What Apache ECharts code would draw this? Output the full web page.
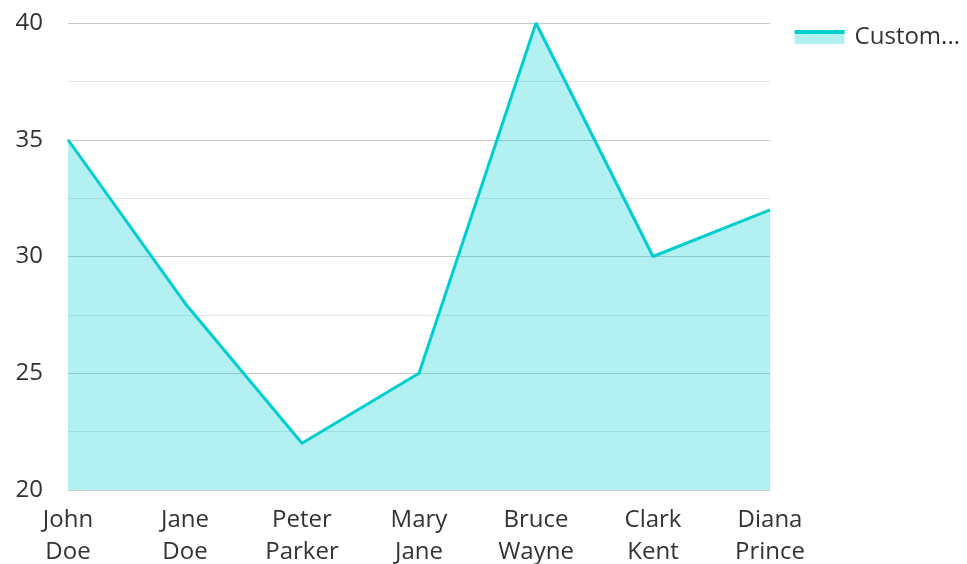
<!DOCTYPE html>
<html>
<head>
<meta charset="utf-8">
<script src="https://cdn.jsdelivr.net/npm/echarts@6/dist/echarts.min.js"></script>
<style>
  html, body { margin: 0; padding: 0; background: #fff; }
  #chart { width: 967px; height: 564px; }
</style>
</head>
<body>
<div id="chart"></div>
<script>
const categories = ['John\nDoe', 'Jane\nDoe', 'Peter\nParker', 'Mary\nJane', 'Bruce\nWayne', 'Clark\nKent', 'Diana\nPrince']
const ages = [35, 28, 22, 25, 40, 30, 32]
const seriesName = 'Customer Age'

const chart = echarts.init(document.getElementById('chart'))
const font = "'Open Sans', 'Noto Sans', sans-serif"
const teal = '#00cecf'

chart.setOption({
  animation: false,
  textStyle: { fontFamily: font },
  legend: {
    right: 2,
    top: 20,
    itemWidth: 50,
    itemHeight: 14,
    itemGap: 10,
    textStyle: { fontSize: 24, color: '#333', fontFamily: font, width: 116, overflow: 'truncate', padding: [0, 0, 8, 5] },
    data: [{
      name: seriesName,
      icon: 'rect',
      itemStyle: {
        color: new echarts.graphic.LinearGradient(0, 0, 0, 1, [
          { offset: 0, color: teal },
          { offset: 0.25, color: teal },
          { offset: 0.25, color: 'rgba(0,206,207,0.3)' },
          { offset: 1, color: 'rgba(0,206,207,0.3)' },
        ]),
      },
    }],
  },
  grid: { left: 68, right: 197, top: 23, bottom: 74, outerBoundsMode: 'none', containLabel: false },
  xAxis: {
    type: 'category',
    boundaryGap: false,
    data: categories,
    axisLine: { lineStyle: { color: '#ccc' } },
    axisTick: { show: false },
    axisLabel: { color: '#333', fontSize: 24, lineHeight: 32, margin: 14, fontFamily: font },
  },
  yAxis: {
    type: 'value',
    min: 20,
    max: 40,
    interval: 5,
    axisLabel: { color: '#333', fontSize: 24, margin: 25, fontFamily: font },
    splitLine: { lineStyle: { color: '#c8c8c8' } },
    minorTick: { show: false, splitNumber: 2 },
    minorSplitLine: { show: true, lineStyle: { color: '#e6e6e6' } },
  },
  series: [{
    name: seriesName,
    type: 'line',
    data: ages,
    showSymbol: false,
    lineStyle: { color: teal, width: 3 },
    itemStyle: { color: teal },
    areaStyle: { color: teal, opacity: 0.3 },
  }],
})
</script>
</body>
</html>
